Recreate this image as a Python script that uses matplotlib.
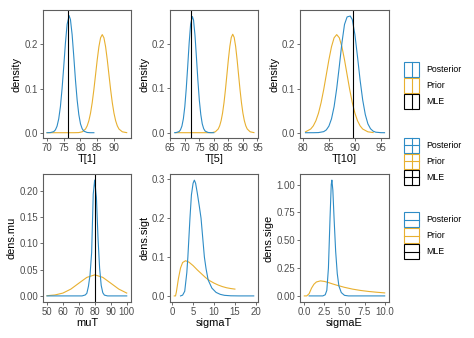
import matplotlib
matplotlib.use("Agg")
import matplotlib.pyplot as plt
from matplotlib.patches import Rectangle

plt.rcParams['font.family'] = ['Liberation Sans', 'DejaVu Sans']

W, H = 474, 338
COL_POST = "#2E8CC6"
COL_PRIOR = "#E8B030"
COL_MLE = "#000000"

# ---------------- data ----------------
# T[1]
t1_post_x = [70, 71, 72, 72.5, 73, 73.5, 74, 74.5, 75, 75.5, 76, 76.6, 77, 77.5, 78, 78.5, 79, 79.5, 80, 80.5, 81, 82, 83, 84]
t1_post_y = [0.0, 0.0003, 0.0024, 0.0063, 0.0149, 0.0314, 0.059, 0.100, 0.150, 0.203, 0.245, 0.265, 0.256, 0.222, 0.172, 0.119, 0.074, 0.041, 0.020, 0.009, 0.0036, 0.0005, 0.0, 0.0]
# T[5]
t5_post_x = [66.5, 67, 68, 68.5, 69, 69.5, 70, 70.5, 71, 71.5, 72, 72.6, 73, 73.5, 74, 74.5, 75, 75.5, 76, 76.5, 77, 78, 79, 80]
t5_post_y = [0.0, 0.0003, 0.0024, 0.0063, 0.0149, 0.0314, 0.059, 0.100, 0.150, 0.203, 0.245, 0.262, 0.254, 0.220, 0.170, 0.118, 0.073, 0.041, 0.020, 0.009, 0.0036, 0.0005, 0.0, 0.0]
# T[10]
t10_post_x = [80.5, 82, 83, 84, 84.5, 85, 85.5, 86, 86.5, 87, 87.5, 88, 88.5, 89.1, 89.5, 90, 90.5, 91, 91.5, 92, 92.5, 93, 93.5, 94, 95, 95.7]
t10_post_y = [0.0, 0.0, 0.0003, 0.0024, 0.0063, 0.0149, 0.0314, 0.059, 0.100, 0.150, 0.203, 0.245, 0.262, 0.264, 0.256, 0.222, 0.172, 0.119, 0.074, 0.041, 0.020, 0.009, 0.0036, 0.0012, 0.0001, 0.0]
# common prior for T[i]
t_prior_x = [70, 78, 79.5, 80.5, 81.5, 82, 82.5, 83, 83.5, 84, 84.5, 85, 85.5, 86, 86.5, 87, 87.5, 88, 88.5, 89, 89.5, 90, 90.5, 91, 91.5, 92.5, 93.8]
t_prior_y = [0.0, 0.0, 0.0003, 0.0020, 0.0083, 0.0155, 0.0271, 0.0443, 0.068, 0.0976, 0.1312, 0.1651, 0.1946, 0.2148, 0.222, 0.2148, 0.1946, 0.1651, 0.1312, 0.0976, 0.068, 0.0443, 0.0271, 0.0155, 0.0083, 0.0020, 0.0002]
t10_prior_x = [80.5, 81.5, 82, 82.5, 83, 83.5, 84, 84.5, 85, 85.5, 86, 86.5, 87, 87.5, 88, 88.5, 89, 89.5, 90, 90.5, 91, 91.5, 92.5, 93.5]
t10_prior_y = [0.0020, 0.0083, 0.0155, 0.0271, 0.0443, 0.068, 0.0976, 0.1312, 0.1651, 0.1946, 0.2148, 0.222, 0.2148, 0.1946, 0.1651, 0.1312, 0.0976, 0.068, 0.0443, 0.0271, 0.0155, 0.0083, 0.0020, 0.0004]
mle_T = [76.4, 72.1, 89.7]

# muT
mu_post_x = [50, 72, 74, 75, 76, 77, 78, 79, 79.9, 81, 82, 83, 84, 85, 86, 88, 100]
mu_post_y = [0.0, 0.0, 0.0018, 0.0050, 0.0183, 0.0400, 0.0820, 0.1930, 0.220, 0.187, 0.110, 0.0530, 0.0200, 0.0060, 0.0015, 0.0, 0.0]
mu_prior_x = [50, 55, 60, 65, 70, 75, 80, 85, 90, 95, 100]
mu_prior_y = [0.0004, 0.0018, 0.0054, 0.0130, 0.0242, 0.0352, 0.0400, 0.0352, 0.0242, 0.0130, 0.0054]
mle_mu = 80.3

# sigmaT
st_post_x = [2.0, 2.5, 3.0, 3.5, 3.75, 4.0, 4.25, 4.6, 5.0, 5.3, 5.6, 6.0, 6.5, 6.9, 7.3, 7.7, 8.1, 8.6, 9.5, 10.5, 11.5, 12.5, 14, 16, 19.5]
st_post_y = [0.0, 0.002, 0.012, 0.06, 0.10, 0.15, 0.20, 0.26, 0.29, 0.298, 0.29, 0.265, 0.23, 0.20, 0.15, 0.10, 0.07, 0.041, 0.02, 0.009, 0.004, 0.0015, 0.0003, 0.0, 0.0]
st_prior_x = [0.5, 0.8, 1.0, 1.5, 2.0, 2.5, 3.2, 4, 5, 6, 7, 8, 9, 10, 11, 12, 13, 14, 15]
st_prior_y = [0.0, 0.0, 0.01, 0.045, 0.072, 0.086, 0.0905, 0.087, 0.078, 0.067, 0.057, 0.047, 0.039, 0.033, 0.028, 0.024, 0.021, 0.019, 0.0175]

# sigmaE
se_post_x = [0.6, 2.3, 2.6, 2.8, 3.0, 3.2, 3.35, 3.43, 3.55, 3.7, 3.9, 4.1, 4.3, 4.6, 5.0, 5.5, 10.0]
se_post_y = [0.0, 0.0, 0.01, 0.05, 0.25, 0.70, 1.00, 1.04, 0.95, 0.70, 0.40, 0.20, 0.09, 0.03, 0.005, 0.0, 0.0]
se_prior_x = [0.0, 0.3, 0.6, 0.9, 1.2, 1.5, 2.0, 2.5, 3.0, 3.5, 4, 5, 6, 7, 8, 9, 10]
se_prior_y = [0.0, 0.0, 0.02, 0.07, 0.105, 0.125, 0.135, 0.13, 0.12, 0.108, 0.097, 0.077, 0.061, 0.049, 0.04, 0.033, 0.027]

legend_labels = ["Posterior", "Prior", "MLE"]

# ---------------- figure ----------------
fig = plt.figure(figsize=(W / 100, H / 100), dpi=100)

def add_ax(l, t, r, b):
    return fig.add_axes([l / W, 1 - b / H, (r - l) / W, (b - t) / H])

TICK_FS = 6.9
TITLE_FS = 7.9

def style(ax, xlim, ylim, xticks, yticks, xlab, ylab, xtl=None, ytl=None):
    ax.set_xlim(*xlim)
    ax.set_ylim(*ylim)
    ax.set_xticks(xticks)
    ax.set_yticks(yticks)
    if xtl is not None:
        ax.set_xticklabels(xtl)
    if ytl is not None:
        ax.set_yticklabels(ytl)
    for s in ax.spines.values():
        s.set_color("#5e5e5e")
        s.set_linewidth(0.8)
    ax.tick_params(axis="both", length=2.0, width=0.5, color="#333333",
                   labelsize=TICK_FS, labelcolor="#4D4D4D", pad=1.5)
    ax.set_xlabel(xlab, fontsize=TITLE_FS, labelpad=1.2)
    ax.set_ylabel(ylab, fontsize=TITLE_FS, labelpad=2)

cols = [(43, 130.7), (170.3, 257.7), (300.3, 388.7)]
rows = [(10.3, 137.7), (174.3, 301.7)]
LW = 0.8

# Panel 1
ax = add_ax(cols[0][0], rows[0][0], cols[0][1], rows[0][1])
ax.plot(t_prior_x, t_prior_y, color=COL_PRIOR, lw=LW)
ax.plot(t1_post_x, t1_post_y, color=COL_POST, lw=LW)
ax.axvline(mle_T[0], color=COL_MLE, lw=LW)
style(ax, (68.8, 95.0), (-0.0113, 0.277), [70, 75, 80, 85, 90], [0, 0.1, 0.2], "T[1]", "density",
      ytl=["0.0", "0.1", "0.2"])

# Panel 2
ax = add_ax(cols[1][0], rows[0][0], cols[1][1], rows[0][1])
ax.plot([66.8] + t_prior_x[1:], [0.0] + t_prior_y[1:], color=COL_PRIOR, lw=LW)
ax.plot(t5_post_x, t5_post_y, color=COL_POST, lw=LW)
ax.axvline(mle_T[1], color=COL_MLE, lw=LW)
style(ax, (65.2, 95.1), (-0.0113, 0.276), [65, 70, 75, 80, 85, 90, 95], [0, 0.1, 0.2], "T[5]", "density",
      ytl=["0.0", "0.1", "0.2"])

# Panel 3
ax = add_ax(cols[2][0], rows[0][0], cols[2][1], rows[0][1])
ax.plot(t10_prior_x, t10_prior_y, color=COL_PRIOR, lw=LW)
ax.plot(t10_post_x, t10_post_y, color=COL_POST, lw=LW)
ax.axvline(mle_T[2], color=COL_MLE, lw=LW)
style(ax, (79.5, 96.5), (-0.0113, 0.277), [80, 85, 90, 95], [0, 0.1, 0.2], "T[10]", "density",
      ytl=["0.0", "0.1", "0.2"])

# Panel 4
ax = add_ax(cols[0][0], rows[1][0], cols[0][1], rows[1][1])
ax.plot(mu_prior_x, mu_prior_y, color=COL_PRIOR, lw=LW)
ax.plot(mu_post_x, mu_post_y, color=COL_POST, lw=LW)
ax.axvline(mle_mu, color=COL_MLE, lw=LW)
style(ax, (47.5, 102.5), (-0.011, 0.231), [50, 60, 70, 80, 90, 100], [0, 0.05, 0.10, 0.15, 0.20], "muT", "dens.mu",
      ytl=["0.00", "0.05", "0.10", "0.15", "0.20"])

# Panel 5
ax = add_ax(cols[1][0], rows[1][0], cols[1][1], rows[1][1])
ax.plot(st_prior_x, st_prior_y, color=COL_PRIOR, lw=LW)
ax.plot(st_post_x, st_post_y, color=COL_POST, lw=LW)
style(ax, (-0.45, 20.45), (-0.0149, 0.313), [0, 5, 10, 15, 20], [0, 0.1, 0.2, 0.3], "sigmaT", "dens.sigt",
      ytl=["0.0", "0.1", "0.2", "0.3"])

# Panel 6
ax = add_ax(cols[2][0], rows[1][0], cols[2][1], rows[1][1])
ax.plot(se_prior_x, se_prior_y, color=COL_PRIOR, lw=LW)
ax.plot(se_post_x, se_post_y, color=COL_POST, lw=LW)
style(ax, (-0.5, 10.5), (-0.052, 1.092), [0, 2.5, 5, 7.5, 10], [0, 0.25, 0.5, 0.75, 1.0], "sigmaE", "dens.sige",
      xtl=["0.0", "2.5", "5.0", "7.5", "10.0"], ytl=["0.00", "0.25", "0.50", "0.75", "1.00"])

# ---------------- legends ----------------
lax = fig.add_axes([0, 0, 1, 1])
lax.set_xlim(0, W)
lax.set_ylim(H, 0)
lax.axis("off")
key_cols = [COL_POST, COL_PRIOR, COL_MLE]
legend_tops = [61.5, 137.0, 211.5]
legend_kinds = ["v", "vh", "h"]
KX0, KW, KH = 404.0, 16.0, 16.0
for top, kind in zip(legend_tops, legend_kinds):
    for i, (lab, c) in enumerate(zip(legend_labels, key_cols)):
        y0 = top + i * KH
        lax.add_patch(Rectangle((KX0 + 0.5, y0 + 0.5), KW - 1, KH - 1, fill=False, edgecolor=c, lw=0.8))
        cx, cy = KX0 + KW / 2, y0 + KH / 2
        if "v" in kind:
            lax.plot([cx, cx], [y0 + 0.5, y0 + KH - 0.5], color=c, lw=0.8)
        if "h" in kind:
            lax.plot([KX0 + 0.5, KX0 + KW - 0.5], [cy, cy], color=c, lw=0.8)
        lax.text(426, cy, lab, fontsize=6.3, va="center", ha="left", color="black")

fig.savefig("out.png", dpi=100)
